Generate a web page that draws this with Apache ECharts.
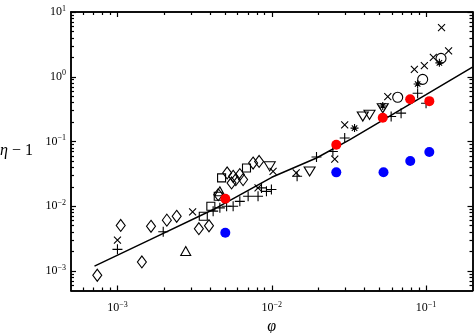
<!DOCTYPE html>
<html>
<head>
<meta charset="utf-8">
<script src="https://cdn.jsdelivr.net/npm/echarts@6/dist/echarts.min.js"></script>
<style>
html, body { margin: 0; padding: 0; background: #fff; }
#chart { width: 474px; height: 333px; }
</style>
</head>
<body>
<div id="chart"></div>
<script>
// ---- data: volume fraction phi and reduced viscosity eta - 1 ----
const diamondPhi = [7.4e-4, 1.05e-3, 1.44e-3, 1.65e-3, 2.09e-3, 2.42e-3, 3.37e-3, 3.92e-3, 4.5e-3, 5.14e-3, 5.49e-3, 5.62e-3, 5.85e-3, 6.21e-3, 6.52e-3, 7.57e-3, 8.28e-3];
const diamondEta = [8.6e-4, 5.05e-3, 1.38e-3, 4.9e-3, 6.1e-3, 7.0e-3, 4.5e-3, 5.0e-3, 1.51e-2, 3.27e-2, 2.29e-2, 2.9e-2, 2.58e-2, 3.08e-2, 2.58e-2, 4.65e-2, 4.92e-2];

const crossPhi = [1.0e-3, 3.07e-3, 8.15e-3, 0.0102, 0.0144, 0.0256, 0.0297, 0.0565, 0.084, 0.0975, 0.1115, 0.126, 0.14];
const crossEta = [3.0e-3, 8.2e-3, 0.0192, 0.0345, 0.0327, 0.0536, 0.181, 0.492, 1.30, 1.48, 1.99, 5.75, 2.51];

const plusPhi = [1.0e-3, 1.98e-3, 4.17e-3, 4.61e-3, 5.1e-3, 5.62e-3, 6.21e-3, 7.03e-3, 8.15e-3, 8.58e-3, 9.24e-3, 9.95e-3, 0.0146, 0.0195, 0.0249, 0.0297, 0.0594, 0.0689, 0.0882, 0.1];
const plusEta = [2.16e-3, 4.04e-3, 8.4e-3, 9.45e-3, 0.01, 0.01, 0.0119, 0.01425, 0.01425, 0.0192, 0.017, 0.0181, 0.029, 0.0575, 0.0701, 0.113, 0.243, 0.274, 0.556, 0.39];

const squarePhi = [3.6e-3, 4.03e-3, 4.5e-3, 4.73e-3, 6.86e-3];
const squareEta = [7.0e-3, 0.01, 0.01425, 0.0274, 0.039];

const trianglePhi = [2.77e-3, 4.61e-3];
const triangleEta = [2.03e-3, 0.017];

const downTrianglePhi = [9.7e-3, 0.0176, 0.0389, 0.043, 0.0524];
const downTriangleEta = [0.0413, 0.0345, 0.243, 0.258, 0.326];

const circlePhi = [0.0655, 0.0951, 0.125];
const circleEta = [0.482, 0.912, 1.92];

const starPhi = [0.0344, 0.0524, 0.0882, 0.122];
const starEta = [0.161, 0.354, 0.773, 1.64];

const redPhi = [0.005, 0.0262, 0.0524, 0.0789, 0.105];
const redEta = [0.0131, 0.089, 0.232, 0.449, 0.42];

const bluePhi = [0.005, 0.0262, 0.053, 0.079, 0.105];
const blueEta = [3.9e-3, 0.0334, 0.0335, 0.0499, 0.0687];

// fitted curve
const curvePhi = [7.1e-4, 1.63e-3, 4.18e-3, 0.01, 0.0195, 0.0319, 0.1, 0.2];
const curveEta = [1.19e-3, 3.05e-3, 8.9e-3, 0.028, 0.0556, 0.106, 0.528, 1.41];

// axis ticks
const xMajor = [1e-3, 1e-2, 1e-1];
const xMinor = [6e-4, 7e-4, 8e-4, 9e-4, 2e-3, 3e-3, 4e-3, 5e-3, 6e-3, 7e-3, 8e-3, 9e-3,
                2e-2, 3e-2, 4e-2, 5e-2, 6e-2, 7e-2, 8e-2, 9e-2];
const yMajor = [1e-3, 1e-2, 1e-1, 1, 10];
const yMinor = [6e-4, 7e-4, 8e-4, 9e-4, 2e-3, 3e-3, 4e-3, 5e-3, 6e-3, 7e-3, 8e-3, 9e-3,
                2e-2, 3e-2, 4e-2, 5e-2, 6e-2, 7e-2, 8e-2, 9e-2,
                0.2, 0.3, 0.4, 0.5, 0.6, 0.7, 0.8, 0.9, 2, 3, 4, 5, 6, 7, 8, 9];

const zip = (a, b) => a.map((v, i) => [v, b[i]]);

const SERIF = 'Liberation Serif';
const CROSS = 'path://M0,0L10,10M10,0L0,10';
const PLUS = 'path://M5,0L5,10M0,5L10,5';
const STAR = 'path://M5,0L5,10M0,5L10,5M1.6,1.6L8.4,8.4M8.4,1.6L1.6,8.4';

function powLabel(v) {
  const e = Math.round(Math.log10(v));
  return '{b|10}{s|' + (e < 0 ? '\u2212' + (-e) : e) + '}';
}
const labelRich = {
  b: { fontFamily: SERIF, fontSize: 12, color: '#000' },
  s: { fontFamily: SERIF, fontSize: 8, color: '#000', padding: [0, 0, 7, 0] }
};

function makeAxis(kind, position, ticks, len, withLabel, extra) {
  const isX = kind === 'x';
  return Object.assign({
    type: 'log',
    logBase: 10,
    min: 5e-4,
    max: isX ? 0.2 : 10,
    position: position,
    splitLine: { show: false },
    axisLine: { show: true, onZero: false, lineStyle: { color: '#000', width: 1.5 } },
    axisTick: { show: true, inside: true, length: len, customValues: ticks,
                lineStyle: { color: '#000', width: 1.2 } },
    axisLabel: withLabel
      ? { show: true, customValues: ticks, formatter: powLabel, rich: labelRich,
          margin: isX ? 10 : 5 }
      : { show: false },
    minorTick: { show: false }
  }, extra || {});
}

const openStyle = { color: 'rgba(0,0,0,0)', borderColor: '#000', borderWidth: 1.1, opacity: 1 };
function openSeries(name, phi, eta, symbol, size, rotate) {
  return {
    name: name, type: 'scatter', data: zip(phi, eta), symbol: symbol,
    symbolSize: size, symbolRotate: rotate || 0,
    itemStyle: openStyle, silent: true, z: 3
  };
}

const chart = echarts.init(document.getElementById('chart'), null, { renderer: 'canvas' });
chart.setOption({
  animation: false,
  backgroundColor: '#fff',
  grid: { left: 71, right: 1.5, top: 12, bottom: 42.5, containLabel: false, outerBoundsMode: 'none' },
  xAxis: [
    makeAxis('x', 'bottom', xMajor, 5, true, {
      name: '{i|\u03c6}', nameLocation: 'middle', nameGap: 27,
      nameTextStyle: { rich: { i: { fontFamily: SERIF, fontStyle: 'italic', fontSize: 16, color: '#000' } } }
    }),
    makeAxis('x', 'bottom', xMinor, 3, false),
    makeAxis('x', 'top', xMajor, 5, false),
    makeAxis('x', 'top', xMinor, 3, false)
  ],
  yAxis: [
    makeAxis('y', 'left', yMajor, 5, true, {
      name: '{i|\u03b7} \u2212 1', nameLocation: 'middle', nameRotate: 0, nameGap: 38,
      nameTextStyle: {
        fontFamily: SERIF, fontSize: 16, color: '#000',
        rich: { i: { fontFamily: SERIF, fontStyle: 'italic', fontSize: 16, color: '#000' } }
      }
    }),
    makeAxis('y', 'left', yMinor, 3, false),
    makeAxis('y', 'right', yMajor, 5, false),
    makeAxis('y', 'right', yMinor, 3, false)
  ],
  series: [
    {
      name: 'fit', type: 'line', data: zip(curvePhi, curveEta), showSymbol: false,
      lineStyle: { color: '#000', width: 1.5 }, silent: true, z: 2
    },
    openSeries('diamond', diamondPhi, diamondEta, 'diamond', [9, 12]),
    openSeries('cross', crossPhi, crossEta, CROSS, 7),
    openSeries('plus', plusPhi, plusEta, PLUS, 10),
    openSeries('square', squarePhi, squareEta, 'rect', 8),
    openSeries('triangle', trianglePhi, triangleEta, 'triangle', [10, 9]),
    openSeries('downTriangle', downTrianglePhi, downTriangleEta, 'triangle', [11, 9], 180),
    openSeries('circle', circlePhi, circleEta, 'circle', 10),
    openSeries('star', starPhi, starEta, STAR, 8),
    {
      name: 'red', type: 'scatter', data: zip(redPhi, redEta), symbol: 'circle', symbolSize: 10,
      itemStyle: { color: '#ff0000', opacity: 1 }, silent: true, z: 4
    },
    {
      name: 'blue', type: 'scatter', data: zip(bluePhi, blueEta), symbol: 'circle', symbolSize: 10,
      itemStyle: { color: '#0000ff', opacity: 1 }, silent: true, z: 4
    }
  ]
});
</script>
</body>
</html>
